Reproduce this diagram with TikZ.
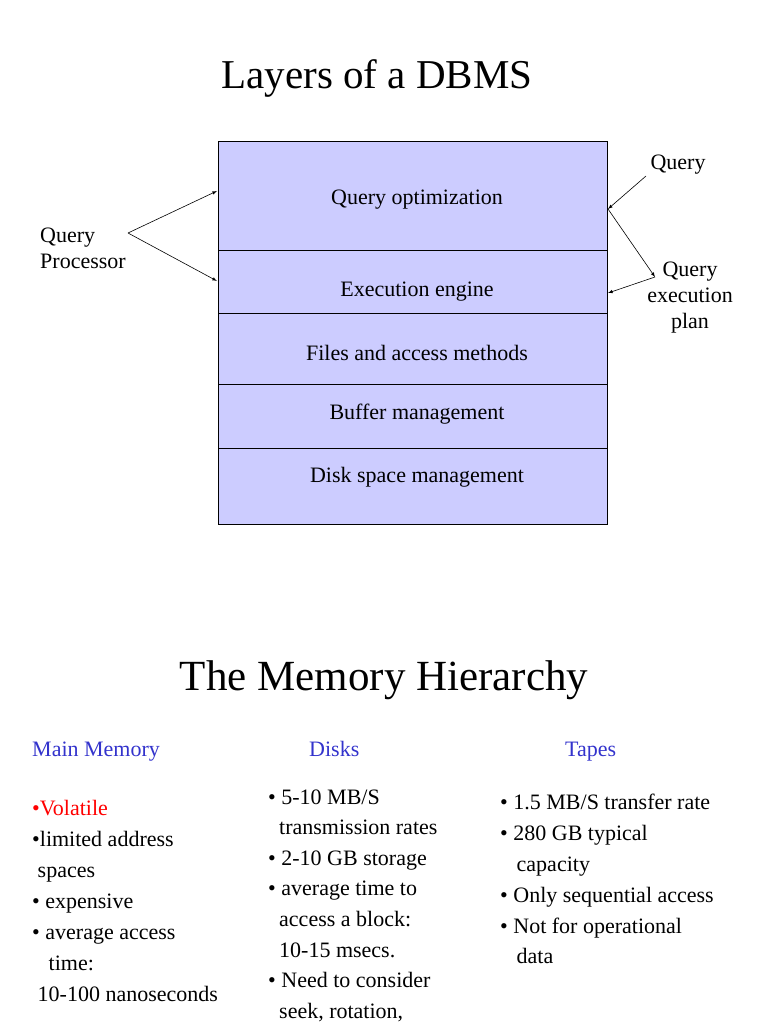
\documentclass[tikz,border=0pt]{standalone}
\usepackage{fontspec}
\setmainfont{Liberation Serif}
\begin{document}
\begin{tikzpicture}[x=1pt,y=-1pt,
  lay/.style={draw=black,fill=boxc,line width=0.8pt},
  t/.style={font=\fontsize{22}{26}\selectfont,inner sep=0},
  ln/.style={t,anchor=base west},
  hd/.style={t,anchor=base west,text=hdc},
  arr/.style={-latex,line width=0.6pt}]
\definecolor{boxc}{RGB}{204,204,255}
\definecolor{hdc}{RGB}{51,51,204}
\useasboundingbox (0,0) rectangle (768,1024);
\node[inner sep=0,font=\fontsize{41}{48}\selectfont] (t1) at (377,78) {Layers of a DBMS};
\draw[lay] (218,141) rectangle (607,250);
\draw[lay] (218,250) rectangle (607,313);
\draw[lay] (218,313) rectangle (607,384);
\draw[lay] (218,384) rectangle (607,448);
\draw[lay] (218,448) rectangle (607,524);
\node[t] (qo) at (417,200) {Query optimization};
\node[t] (ee) at (417,292) {Execution engine};
\node[t] (fa) at (417,353) {Files and access methods};
\node[t] (bm) at (417,414) {Buffer management};
\node[t] (ds) at (417,477) {Disk space management};
\node[t,align=left,anchor=west] (qp) at (40,248) {Query\\Processor};
\coordinate (qpa) at (128,233);
\coordinate (qo1) at (217,191);
\coordinate (ee1) at (217,281);
\draw[arr] (qpa) -- (qo1);
\draw[arr] (qpa) -- (ee1);
\node[t] (q) at (678,165) {Query};
\coordinate (qs) at (646,176);
\coordinate (qe) at (608,209);
\draw[arr] (qs) -- (qe);
\node[t,align=center] (qep) at (690,298) {Query\\execution\\plan};
\coordinate (pa) at (655,277);
\coordinate (ep) at (608,293);
\draw[arr] (qe) -- (pa);
\draw[arr] (pa) -- (ep);
\node[inner sep=0,font=\fontsize{43}{50}\selectfont] (t2) at (384,680) {The Memory Hierarchy};
\node[hd] (h1) at (32,756) {Main Memory};
\node[hd] (h2) at (309,756) {Disks};
\node[hd] (h3) at (565,756) {Tapes};
\node[ln,text=red] (a1) at (32,815) {•Volatile};
\node[ln] (a2) at (32,846) {•limited address};
\node[ln] (a3) at (32,877) {\ spaces};
\node[ln] (a4) at (32,908) {• expensive};
\node[ln] (a5) at (32,939) {• average access};
\node[ln] (a6) at (32,970) {\ \ \ time:};
\node[ln] (a7) at (32,1001) {\ 10-100 nanoseconds};
\node[ln] (b1) at (268,804) {• 5-10 MB/S};
\node[ln] (b2) at (268,834) {\ \ transmission rates};
\node[ln] (b3) at (268,865) {• 2-10 GB storage};
\node[ln] (b4) at (268,895) {• average time to};
\node[ln] (b5) at (268,926) {\ \ access a block:};
\node[ln] (b6) at (268,957) {\ \ 10-15 msecs.};
\node[ln] (b7) at (268,987) {• Need to consider};
\node[ln] (b8) at (268,1018) {\ \ seek, rotation,};
\node[ln] (c1) at (500,809) {• 1.5 MB/S transfer rate};
\node[ln] (c2) at (500,840) {• 280 GB typical};
\node[ln] (c3) at (500,871) {\ \ \ capacity};
\node[ln] (c4) at (500,902) {• Only sequential access};
\node[ln] (c5) at (500,933) {• Not for operational};
\node[ln] (c6) at (500,963) {\ \ \ data};
\end{tikzpicture}
\end{document}
